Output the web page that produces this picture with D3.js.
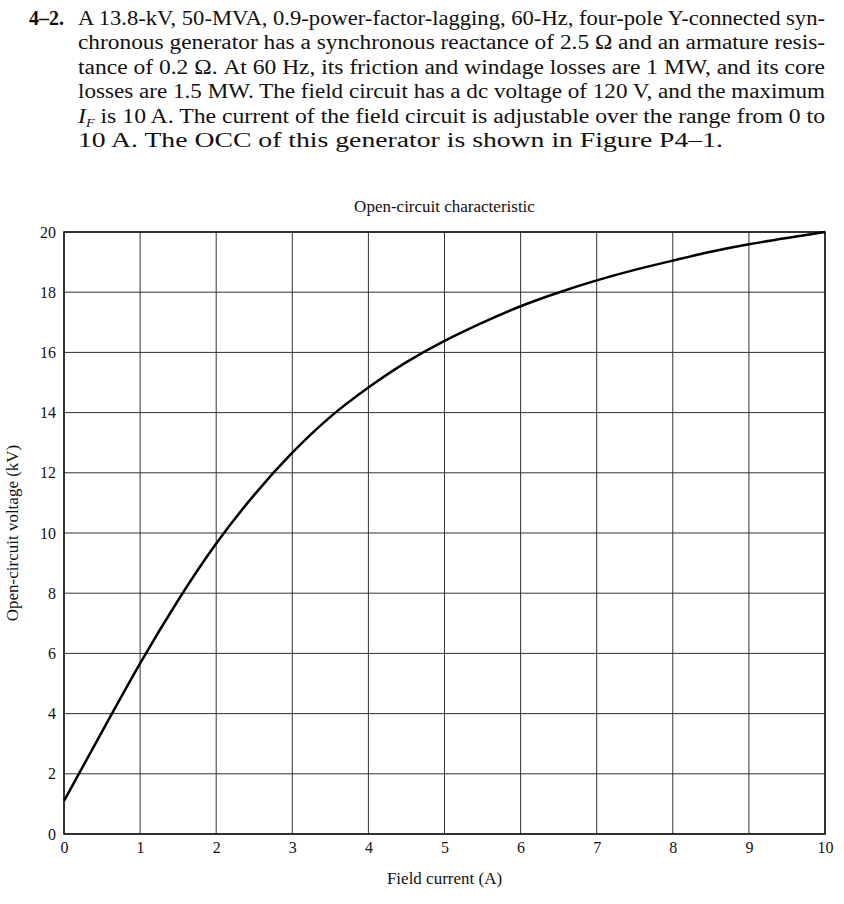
<!DOCTYPE html>
<html><head><meta charset="utf-8">
<script src="https://cdn.jsdelivr.net/npm/d3@7"></script>
<style>
body{margin:0;background:#fff;font-family:"Liberation Serif",serif;}
</style></head>
<body><svg id="chart"></svg>
<script>
let current = [0,0.5,1,1.5,2,2.5,3,3.5,4,4.5,5,5.5,6,6.5,7,7.5,8,8.5,9,9.5,10];
let voltage = [1.1,3.4,5.7,7.8,9.7,11.3,12.7,13.9,14.85,15.7,16.4,17.0,17.55,18.0,18.4,18.75,19.05,19.35,19.6,19.8,20];
let xTicks = [0,1,2,3,4,5,6,7,8,9,10];
let yTicks = [0,2,4,6,8,10,12,14,16,18,20];
let textLines = [
	"A 13.8-kV, 50-MVA, 0.9-power-factor-lagging, 60-Hz, four-pole Y-connected syn-",
	"chronous generator has a synchronous reactance of 2.5 \u03a9 and an armature resis-",
	"tance of 0.2 \u03a9. At 60 Hz, its friction and windage losses are 1 MW, and its core",
	"losses are 1.5 MW. The field circuit has a dc voltage of 120 V, and the maximum",
	"IF is 10 A. The current of the field circuit is adjustable over the range from 0 to",
	"10 A. The OCC of this generator is shown in Figure P4\u20131."
];

let w = 844, h = 904;
let marginL = 64, marginR = 19, marginT = 232, marginB = 70;

let svg = d3.select('#chart').attr('width', w).attr('height', h);

// problem text
let txt = svg.append('g').style('font-family', '"Liberation Serif",serif').style('font-size', '20px').attr('fill', '#111');
txt.append('text').attr('x', 29).attr('y', 25).style('font-weight', 'bold').text('4\u20132.');
textLines.forEach((line, i) => {
	let t = txt.append('text').attr('x', 78).attr('y', 25 + i * 24.4);
	if (i < 5) t.attr('textLength', 747).attr('lengthAdjust', 'spacingAndGlyphs');
	else t.attr('textLength', 645).attr('lengthAdjust', 'spacingAndGlyphs');
	if (i === 4) {
		t.append('tspan').style('font-style', 'italic').text('I');
		t.append('tspan').style('font-style', 'italic').attr('dy', 4).style('font-size', '12px').text('F');
		t.append('tspan').attr('dy', -4).text(line.slice(2));
	} else {
		t.text(line);
	}
});

let xScale = d3.scaleLinear().domain([0, 10]).range([marginL, w - marginR]);
let yScale = d3.scaleLinear().domain([0, 20]).range([h - marginB, marginT]);

// grid
svg.append('g').selectAll('line').data(xTicks).enter().append('line')
	.attr('x1', d => xScale(d)).attr('x2', d => xScale(d))
	.attr('y1', yScale(0)).attr('y2', yScale(20))
	.attr('stroke', '#333').attr('stroke-width', 1);
svg.append('g').selectAll('line').data(yTicks).enter().append('line')
	.attr('y1', d => yScale(d)).attr('y2', d => yScale(d))
	.attr('x1', xScale(0)).attr('x2', xScale(10))
	.attr('stroke', '#333').attr('stroke-width', 1);
svg.append('rect').attr('x', xScale(0)).attr('y', yScale(20))
	.attr('width', xScale(10) - xScale(0)).attr('height', yScale(0) - yScale(20))
	.attr('fill', 'none').attr('stroke', '#111').attr('stroke-width', 1.5);

// axes
let xAxis = d3.axisBottom(xScale).tickValues(xTicks).tickSize(0).tickPadding(8);
let yAxis = d3.axisLeft(yScale).tickValues(yTicks).tickSize(0).tickPadding(8);
let gx = svg.append('g').attr('transform', `translate(0,${yScale(0)})`).call(xAxis);
let gy = svg.append('g').attr('transform', `translate(${xScale(0)},0)`).call(yAxis);
[gx, gy].forEach(g => {
	g.select('.domain').remove();
	g.selectAll('text').style('font-family', '"Liberation Serif",serif').style('font-size', '16px').attr('fill', '#111');
});

// curve
let line = d3.line().x((d, i) => xScale(current[i])).y(d => yScale(d)).curve(d3.curveBasis);
svg.append('path').datum(voltage).attr('d', line)
	.attr('fill', 'none').attr('stroke', '#000').attr('stroke-width', 2.5);

// labels
let lab = svg.append('g').style('font-family', '"Liberation Serif",serif').style('font-size', '17px').attr('fill', '#111');
lab.append('text').attr('x', (xScale(0) + xScale(10)) / 2).attr('y', 212)
	.style('text-anchor', 'middle').text('Open-circuit characteristic');
lab.append('text').attr('x', (xScale(0) + xScale(10)) / 2).attr('y', 884)
	.style('text-anchor', 'middle').text('Field current (A)');
lab.append('text').attr('transform', 'rotate(-90)')
	.attr('x', -(yScale(0) + yScale(20)) / 2).attr('y', 18)
	.style('text-anchor', 'middle').text('Open-circuit voltage (kV)');
</script></body></html>
